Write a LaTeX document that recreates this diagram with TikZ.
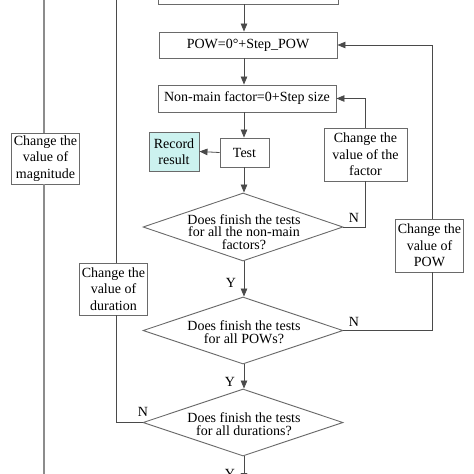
\documentclass[tikz,border=0pt]{standalone}
\usepackage{fontspec}
\setmainfont{Liberation Serif}
\usetikzlibrary{shapes.geometric,arrows.meta}
\definecolor{linec}{HTML}{4A4A4A}
\definecolor{boxc}{HTML}{6A6A6A}
\definecolor{recfill}{HTML}{CCF2EF}
\tikzset{
  box/.style={draw=boxc,line width=0.9pt,rectangle,inner sep=2pt,align=center,
    font=\fontsize{14}{16.5}\selectfont},
  dia/.style={draw=boxc,line width=0.9pt,diamond,inner sep=0pt},
  diatext/.style={align=center,inner sep=0pt,font=\fontsize{14}{12.8}\selectfont},
  flow/.style={draw=linec,line width=0.8pt,-{Triangle[length=8pt,width=6.5pt]}},
  conn/.style={draw=linec,line width=0.8pt},
  outer/.style={draw=black!45,line width=1.6pt},
  lab/.style={inner sep=0pt,font=\fontsize{14}{14}\selectfont}
}
\begin{document}
\begin{tikzpicture}[x=1pt,y=1pt]
\useasboundingbox (0,0) rectangle (474,-474);
\clip (0,0) rectangle (474,-474);
% boxes
\node[box,minimum width=180pt,minimum height=30pt] (top) at (248,11) {};
\node[box,minimum width=178pt,minimum height=26pt] (pow) at (248,-45) {POW=0°+Step\_POW};
\node[box,minimum width=178pt,minimum height=27pt] (nm) at (247,-98.5) {Non-main factor=0+Step size};
\node[box,minimum width=49pt,minimum height=29pt] (test) at (244.5,-152.5) {Test};
\node[box,fill=recfill,minimum width=50pt,minimum height=39pt] (rec) at (174,-151.5) {Record\\result};
\node[box,minimum width=83pt,minimum height=53pt] (cf) at (365.5,-154.5) {Change the\\value of the\\factor};
\node[box,minimum width=67pt,minimum height=53pt] (cp) at (429.5,-245.5) {Change the\\value of\\POW};
\node[box,minimum width=67pt,minimum height=52pt] (cd) at (113.5,-289) {Change the\\value of\\duration};
\node[box,minimum width=67pt,minimum height=51pt] (cm) at (45.5,-158.5) {Change the\\value of\\magnitude};
% diamonds
\node[dia,minimum width=200pt,minimum height=68pt] (d1) at (243,-227) {};
\node[diatext] (t1) at (244,-232) {Does finish the tests\\for all the non-main\\factors?};
\node[dia,minimum width=200pt,minimum height=67pt] (d2) at (243,-330.5) {};
\node[diatext] (t2) at (244,-332) {Does finish the tests\\for all POWs?};
\node[dia,minimum width=200pt,minimum height=67pt] (d3) at (243,-422.5) {};
\node[diatext] (t3) at (244,-424) {Does finish the tests\\for all durations?};
% coordinates
\coordinate (ax) at (244,0);
\coordinate (xf) at (365,0);
\coordinate (xp) at (432,0);
\coordinate (xd) at (116,0);
\coordinate (xm) at (44,0);
\coordinate (dtop) at (116,12);
\coordinate (mtop) at (44,12);
\coordinate (mbot) at (44,-480);
\coordinate (endb) at (244,-481);
% main flow
\draw[flow] (top.south -| ax) -- (pow.north -| ax);
\draw[flow] (pow.south -| ax) -- (nm.north -| ax);
\draw[flow] (nm.south -| ax) -- (test.north -| ax);
\draw[flow] (test.west) -- (rec.east);
\draw[flow] (test.south -| ax) -- (d1.north -| ax);
\draw[flow] (d1.south -| ax) -- (d2.north -| ax);
\draw[flow] (d2.south -| ax) -- (d3.north -| ax);
\draw[flow] (d3.south -| ax) -- (endb);
% loops
\draw[conn] (d1.east) -- (d1.east -| xf) -- (cf.south -| xf);
\draw[flow] (cf.north -| xf) |- (nm.east);
\draw[conn] (d2.east) -- (d2.east -| xp) -- (cp.south -| xp);
\draw[flow] (cp.north -| xp) |- (pow.east);
\draw[conn] (d3.west) -- (d3.west -| xd) -- (cd.south -| xd);
\draw[conn] (cd.north -| xd) -- (dtop);
\draw[outer] (mtop) -- (cm.north -| xm);
\draw[outer] (cm.south -| xm) -- (mbot);
% labels
\node[lab] (n1) at (354,-218) {N};
\node[lab] (n2) at (354,-322) {N};
\node[lab] (n3) at (143,-412) {N};
\node[lab] (y1) at (231,-283) {Y};
\node[lab] (y2) at (230,-382) {Y};
\node[lab] (y3) at (230,-474) {Y};
\end{tikzpicture}
\end{document}
